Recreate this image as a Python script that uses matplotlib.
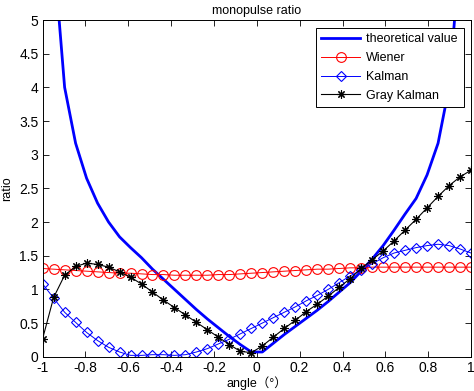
import numpy as np
import matplotlib
matplotlib.use("Agg")
import matplotlib.pyplot as plt

plt.rcParams['font.family'] = ['Liberation Sans', 'Noto Sans CJK SC', 'DejaVu Sans']

# 40 sample angles between -1 and 1 degree
angle = np.linspace(-1, 1, 40)

theory = [15.0, 6.0, 4.0, 3.17, 2.65, 2.28, 2.0, 1.78, 1.62, 1.47,
          1.3, 1.15, 1.0, 0.85, 0.7, 0.56, 0.43, 0.3, 0.18, 0.07,
          0.07, 0.2, 0.33, 0.45, 0.57, 0.69, 0.82, 0.96, 1.1, 1.27,
          1.45, 1.65, 1.88, 2.12, 2.35, 2.7, 3.17, 4.0, 6.0, 15.0]

wiener = [1.31, 1.30, 1.29, 1.28, 1.27, 1.26, 1.25, 1.24, 1.24, 1.23,
          1.22, 1.22, 1.21, 1.21, 1.21, 1.21, 1.22, 1.22, 1.23, 1.24,
          1.25, 1.26, 1.27, 1.28, 1.29, 1.30, 1.30, 1.31, 1.32, 1.32,
          1.33, 1.33, 1.33, 1.33, 1.33, 1.33, 1.33, 1.33, 1.33, 1.33]

kalman = [1.08, 0.87, 0.66, 0.51, 0.36, 0.24, 0.14, 0.07, 0.02, 0.02,
          0.03, 0.03, 0.02, 0.03, 0.07, 0.12, 0.19, 0.26, 0.34, 0.42,
          0.50, 0.58, 0.66, 0.74, 0.83, 0.91, 1.00, 1.10, 1.20, 1.29,
          1.38, 1.47, 1.54, 1.58, 1.62, 1.65, 1.67, 1.65, 1.60, 1.54]

gray_kalman = [0.27, 0.88, 1.21, 1.34, 1.39, 1.37, 1.33, 1.26, 1.18, 1.08,
               0.96, 0.84, 0.73, 0.62, 0.51, 0.40, 0.29, 0.18, 0.08, 0.06,
               0.16, 0.29, 0.42, 0.54, 0.67, 0.78, 0.90, 1.03, 1.16, 1.31,
               1.44, 1.57, 1.72, 1.88, 2.04, 2.21, 2.38, 2.54, 2.67, 2.77]

xticks = [-1, -0.8, -0.6, -0.4, -0.2, 0, 0.2, 0.4, 0.6, 0.8, 1]
xticklabels = ['-1', '-0.8', '-0.6', '-0.4', '-0.2', '0', '0.2', '0.4', '0.6', '0.8', '1']
yticks = [0, 0.5, 1, 1.5, 2, 2.5, 3, 3.5, 4, 4.5, 5]
yticklabels = ['0', '0.5', '1', '1.5', '2', '2.5', '3', '3.5', '4', '4.5', '5']

fig = plt.figure(figsize=(4.74, 3.91), dpi=100)
ax = fig.add_axes([0.090, 0.0877, 0.9037, 0.8611])

ax.plot(angle, theory, color='#0000ff', lw=2.0, label='theoretical value')
ax.plot(angle, wiener, color='#ff0000', lw=0.7, marker='o', ms=7,
        mfc='none', mec='#ff0000', mew=0.8, label='Wiener')
ax.plot(angle, kalman, color='#0000ff', lw=0.7, marker='D', ms=5.5,
        mfc='none', mec='#0000ff', mew=0.8, label='Kalman')
ax.plot(angle, gray_kalman, color='k', lw=0.8, marker=(8, 2, 0), ms=6,
        mew=0.8, label='Gray Kalman')

ax.set_xlim(-1, 1)
ax.set_ylim(0, 5)
ax.set_xticks(xticks)
ax.set_xticklabels(xticklabels)
ax.set_yticks(yticks)
ax.set_yticklabels(yticklabels)
ax.tick_params(direction='in', top=True, right=True, length=4, width=0.6,
               labelsize=10, pad=3)
for s in ax.spines.values():
    s.set_linewidth(0.7)

ax.set_title('monopulse ratio', fontsize=9, pad=4)
ax.set_xlabel('angle（°）', fontsize=9, labelpad=1)
ax.set_ylabel('ratio', fontsize=9, labelpad=4)

leg = ax.legend(loc='upper right', fontsize=9, numpoints=1, handlelength=3.1,
                fancybox=False, framealpha=1, borderaxespad=0.6,
                labelspacing=0.55, handletextpad=0.5, borderpad=0.45)
leg.get_frame().set_edgecolor('k')
leg.get_frame().set_linewidth(0.7)

fig.savefig('out.png', dpi=100)
